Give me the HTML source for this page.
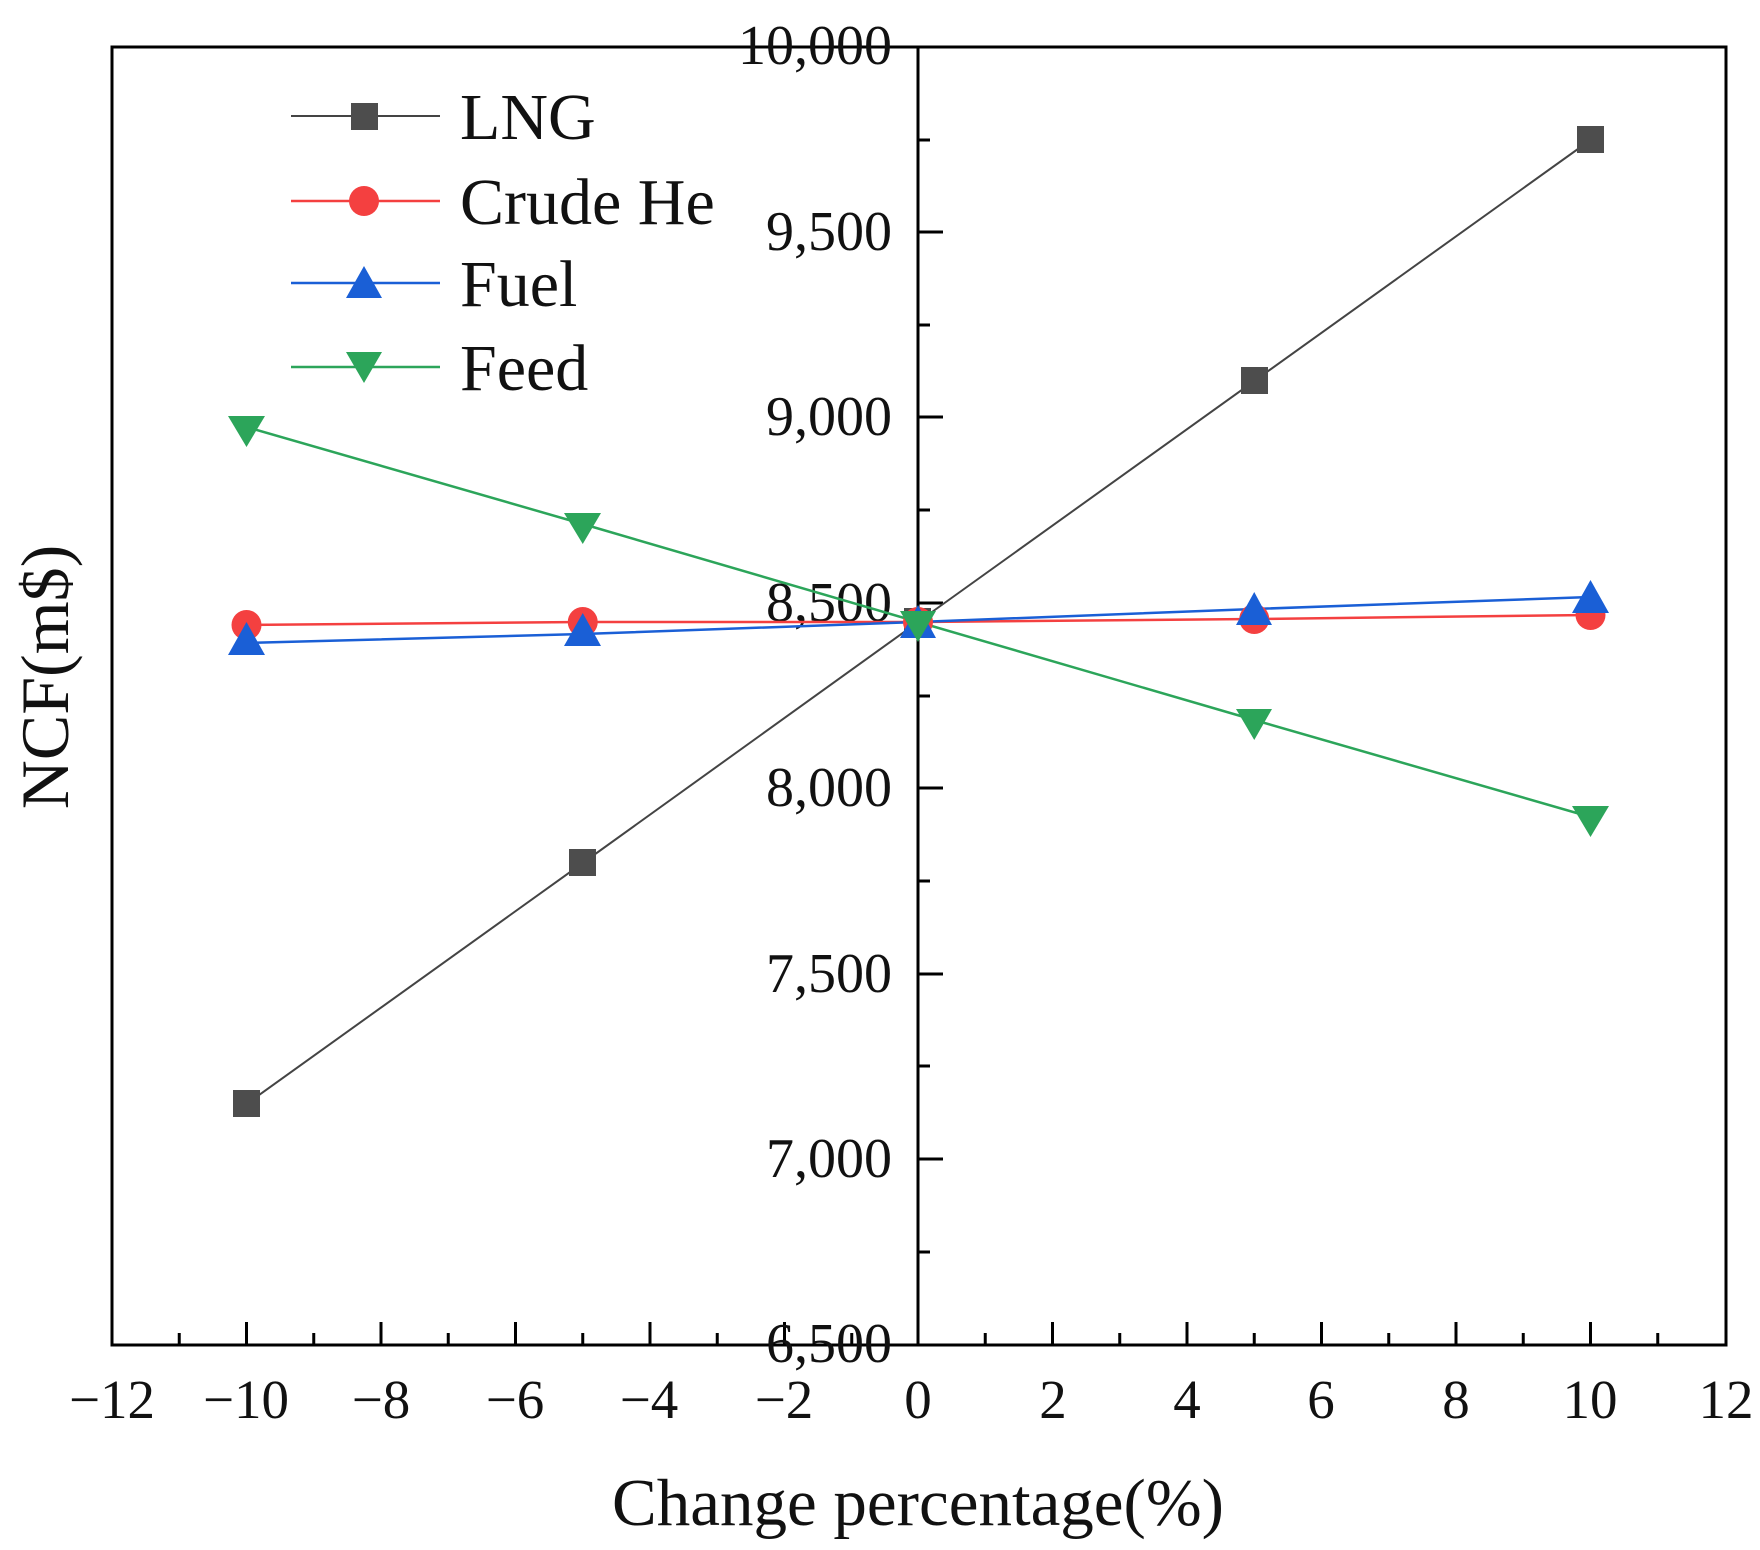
<!DOCTYPE html>
<html><head><meta charset="utf-8"><style>html,body{margin:0;padding:0;background:#fff}svg{display:block}</style></head>
<body>
<svg width="1760" height="1550" viewBox="0 0 1760 1550" xmlns="http://www.w3.org/2000/svg" font-family="'Liberation Serif', serif">
<rect width="1760" height="1550" fill="#fff"/>
<rect x="112" y="47" width="1614" height="1298" fill="none" stroke="#000" stroke-width="3"/>
<line x1="918" y1="47" x2="918" y2="1345" stroke="#000" stroke-width="3"/>
<g stroke="#000" stroke-width="3">
<line x1="918" y1="232" x2="943" y2="232"/><line x1="918" y1="417" x2="943" y2="417"/><line x1="918" y1="603" x2="943" y2="603"/><line x1="918" y1="788" x2="943" y2="788"/><line x1="918" y1="974" x2="943" y2="974"/><line x1="918" y1="1159" x2="943" y2="1159"/>
<line x1="918" y1="140" x2="930" y2="140"/><line x1="918" y1="325" x2="930" y2="325"/><line x1="918" y1="510" x2="930" y2="510"/><line x1="918" y1="696" x2="930" y2="696"/><line x1="918" y1="881" x2="930" y2="881"/><line x1="918" y1="1066" x2="930" y2="1066"/><line x1="918" y1="1252" x2="930" y2="1252"/>
<!-- x ticks -->
<line x1="179.25" y1="1345" x2="179.25" y2="1333"/>
<line x1="246.5" y1="1345" x2="246.5" y2="1322"/>
<line x1="313.75" y1="1345" x2="313.75" y2="1333"/>
<line x1="381" y1="1345" x2="381" y2="1322"/>
<line x1="448.25" y1="1345" x2="448.25" y2="1333"/>
<line x1="515.5" y1="1345" x2="515.5" y2="1322"/>
<line x1="582.75" y1="1345" x2="582.75" y2="1333"/>
<line x1="650" y1="1345" x2="650" y2="1322"/>
<line x1="717.25" y1="1345" x2="717.25" y2="1333"/>
<line x1="784.5" y1="1345" x2="784.5" y2="1322"/>
<line x1="851.75" y1="1345" x2="851.75" y2="1333"/>
<line x1="985.25" y1="1345" x2="985.25" y2="1333"/>
<line x1="1052.5" y1="1345" x2="1052.5" y2="1322"/>
<line x1="1119.75" y1="1345" x2="1119.75" y2="1333"/>
<line x1="1187" y1="1345" x2="1187" y2="1322"/>
<line x1="1254.25" y1="1345" x2="1254.25" y2="1333"/>
<line x1="1321.5" y1="1345" x2="1321.5" y2="1322"/>
<line x1="1388.75" y1="1345" x2="1388.75" y2="1333"/>
<line x1="1456" y1="1345" x2="1456" y2="1322"/>
<line x1="1523.25" y1="1345" x2="1523.25" y2="1333"/>
<line x1="1590.5" y1="1345" x2="1590.5" y2="1322"/>
<line x1="1657.75" y1="1345" x2="1657.75" y2="1333"/>
</g>
<g font-size="56" text-anchor="end" fill="#111">
<text x="892" y="64">10,000</text>
<text x="892" y="250">9,500</text>
<text x="892" y="435">9,000</text>
<text x="892" y="621">8,500</text>
<text x="892" y="806">8,000</text>
<text x="892" y="992">7,500</text>
<text x="892" y="1177">7,000</text>
<text x="892" y="1362">6,500</text>
</g>
<g font-size="55" text-anchor="middle" fill="#111">
<text x="112" y="1418">−12</text><text x="246" y="1418">−10</text><text x="381" y="1418">−8</text><text x="515" y="1418">−6</text><text x="649" y="1418">−4</text><text x="784" y="1418">−2</text><text x="918" y="1418">0</text><text x="1053" y="1418">2</text><text x="1187" y="1418">4</text><text x="1321" y="1418">6</text><text x="1456" y="1418">8</text><text x="1590" y="1418">10</text><text x="1726" y="1418">12</text>
</g>
<text x="918" y="1525" font-size="67" text-anchor="middle" fill="#111">Change percentage(%)</text>
<text transform="translate(68,677) rotate(-90)" font-size="68" text-anchor="middle" fill="#111">NCF(m$)</text>
<polyline points="246.5,1104 582.75,863 918,622 1254.25,381 1590.5,140" fill="none" stroke="#444" stroke-width="2"/>
<polyline points="246.5,625 582.75,622 918,622 1254.25,619 1590.5,615" fill="none" stroke="#f44040" stroke-width="2.5"/>
<polyline points="246.5,643 582.75,634 918,622 1254.25,609 1590.5,597" fill="none" stroke="#1a5fd6" stroke-width="2.5"/>
<polyline points="246.5,427 582.75,524 918,622 1254.25,720 1590.5,817" fill="none" stroke="#2ca55a" stroke-width="2.5"/>
<g fill="#4d4d4d">
<rect x="233" y="1090" width="27" height="27"/><rect x="569" y="849" width="27" height="27"/><rect x="904" y="608" width="27" height="27"/><rect x="1241" y="367" width="27" height="27"/><rect x="1577" y="126" width="27" height="27"/>
</g>
<g fill="#f44040">
<circle cx="246.5" cy="625" r="15"/><circle cx="582.75" cy="622" r="15"/><circle cx="918" cy="622" r="15"/><circle cx="1254.25" cy="619" r="15"/><circle cx="1590.5" cy="615" r="15"/>
</g>
<g fill="#1a5fd6">
<polygon points="246.5,622 228,655 265,655"/><polygon points="582.75,613 564,646 601,646"/><polygon points="918,605 900,638 936,638"/><polygon points="1254.25,592 1236,625 1272,625"/><polygon points="1590.5,580 1572,613 1609,613"/>
</g>
<g fill="#2ca55a">
<polygon points="228,416 265,416 246.5,447"/><polygon points="564,513 601,513 582.75,544"/><polygon points="900,611 936,611 918,642"/><polygon points="1236,709 1272,709 1254.25,740"/><polygon points="1572,806 1609,806 1590.5,837"/>
</g>
<g font-size="66" fill="#111">
<line x1="291" y1="116" x2="440" y2="116" stroke="#444" stroke-width="2"/><rect x="351" y="103" width="27" height="27" fill="#4d4d4d"/><text x="460" y="139">LNG</text>
<line x1="291" y1="201" x2="440" y2="201" stroke="#f44040" stroke-width="2.5"/><circle cx="364" cy="201" r="15" fill="#f44040"/><text x="460" y="224">Crude He</text>
<line x1="291" y1="283" x2="440" y2="283" stroke="#1a5fd6" stroke-width="2.5"/><polygon points="364,266 346,298 382,298" fill="#1a5fd6"/><text x="460" y="306">Fuel</text>
<line x1="291" y1="367" x2="440" y2="367" stroke="#2ca55a" stroke-width="2.5"/><polygon points="346,352 382,352 364,383" fill="#2ca55a"/><text x="460" y="390">Feed</text>
</g>
</svg>
</body></html>
